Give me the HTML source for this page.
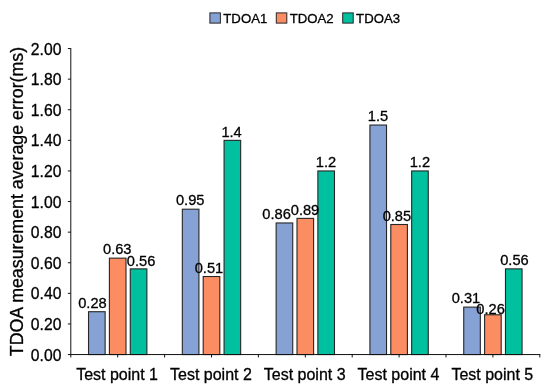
<!DOCTYPE html><html><head><meta charset="utf-8"><title>TDOA chart</title><style>html,body{margin:0;padding:0;background:#fff}svg{display:block}text{font-family:"Liberation Sans",Arial,sans-serif;fill:#000;stroke:#000;stroke-width:0.3px;stroke-linejoin:round}</style></head><body>
<svg width="550" height="390" viewBox="0 0 550 390">
<rect width="550" height="390" fill="#fff"/>
<rect x="88.53" y="311.71" width="16.6" height="42.84" fill="#86A1D3" stroke="#262626" stroke-width="1.1"/>
<rect x="109.40" y="258.16" width="16.6" height="96.39" fill="#FC8D62" stroke="#262626" stroke-width="1.1"/>
<rect x="130.27" y="268.87" width="16.6" height="85.68" fill="#00C0A0" stroke="#262626" stroke-width="1.1"/>
<rect x="182.33" y="209.20" width="16.6" height="145.35" fill="#86A1D3" stroke="#262626" stroke-width="1.1"/>
<rect x="203.20" y="276.52" width="16.6" height="78.03" fill="#FC8D62" stroke="#262626" stroke-width="1.1"/>
<rect x="224.07" y="140.35" width="16.6" height="214.20" fill="#00C0A0" stroke="#262626" stroke-width="1.1"/>
<rect x="276.13" y="222.97" width="16.6" height="131.58" fill="#86A1D3" stroke="#262626" stroke-width="1.1"/>
<rect x="297.00" y="218.38" width="16.6" height="136.17" fill="#FC8D62" stroke="#262626" stroke-width="1.1"/>
<rect x="317.87" y="170.95" width="16.6" height="183.60" fill="#00C0A0" stroke="#262626" stroke-width="1.1"/>
<rect x="369.93" y="125.05" width="16.6" height="229.50" fill="#86A1D3" stroke="#262626" stroke-width="1.1"/>
<rect x="390.80" y="224.50" width="16.6" height="130.05" fill="#FC8D62" stroke="#262626" stroke-width="1.1"/>
<rect x="411.67" y="170.95" width="16.6" height="183.60" fill="#00C0A0" stroke="#262626" stroke-width="1.1"/>
<rect x="463.73" y="307.12" width="16.6" height="47.43" fill="#86A1D3" stroke="#262626" stroke-width="1.1"/>
<rect x="484.60" y="314.77" width="16.6" height="39.78" fill="#FC8D62" stroke="#262626" stroke-width="1.1"/>
<rect x="505.47" y="268.87" width="16.6" height="85.68" fill="#00C0A0" stroke="#262626" stroke-width="1.1"/>
<g stroke="#111" stroke-width="1" fill="none">
<line x1="70.8" y1="48.05" x2="70.8" y2="355.05"/>
<line x1="70.3" y1="354.55" x2="540.3" y2="354.55"/>
<line x1="67.89999999999999" y1="354.55" x2="70.8" y2="354.55"/>
<line x1="67.89999999999999" y1="323.95" x2="70.8" y2="323.95"/>
<line x1="67.89999999999999" y1="293.35" x2="70.8" y2="293.35"/>
<line x1="67.89999999999999" y1="262.75" x2="70.8" y2="262.75"/>
<line x1="67.89999999999999" y1="232.15" x2="70.8" y2="232.15"/>
<line x1="67.89999999999999" y1="201.55" x2="70.8" y2="201.55"/>
<line x1="67.89999999999999" y1="170.95" x2="70.8" y2="170.95"/>
<line x1="67.89999999999999" y1="140.35" x2="70.8" y2="140.35"/>
<line x1="67.89999999999999" y1="109.75" x2="70.8" y2="109.75"/>
<line x1="67.89999999999999" y1="79.15" x2="70.8" y2="79.15"/>
<line x1="67.89999999999999" y1="48.55" x2="70.8" y2="48.55"/>
<line x1="70.80" y1="354.55" x2="70.80" y2="357.45"/>
<line x1="117.70" y1="354.55" x2="117.70" y2="357.45"/>
<line x1="164.60" y1="354.55" x2="164.60" y2="357.45"/>
<line x1="211.50" y1="354.55" x2="211.50" y2="357.45"/>
<line x1="258.40" y1="354.55" x2="258.40" y2="357.45"/>
<line x1="305.30" y1="354.55" x2="305.30" y2="357.45"/>
<line x1="352.20" y1="354.55" x2="352.20" y2="357.45"/>
<line x1="399.10" y1="354.55" x2="399.10" y2="357.45"/>
<line x1="446.00" y1="354.55" x2="446.00" y2="357.45"/>
<line x1="492.90" y1="354.55" x2="492.90" y2="357.45"/>
<line x1="539.80" y1="354.55" x2="539.80" y2="357.45"/>
</g>
<text x="78.19" y="308.10" font-size="14.67">0.28</text>
<text x="102.99" y="254.30" font-size="14.67">0.63</text>
<text x="126.82" y="266.30" font-size="14.67">0.56</text>
<text x="175.93" y="205.40" font-size="14.67">0.95</text>
<text x="194.72" y="273.00" font-size="14.67">0.51</text>
<text x="221.40" y="137.00" font-size="14.67">1.4</text>
<text x="262.37" y="219.40" font-size="14.67">0.86</text>
<text x="290.74" y="214.80" font-size="14.67">0.89</text>
<text x="315.77" y="167.20" font-size="14.67">1.2</text>
<text x="367.86" y="120.80" font-size="14.67">1.5</text>
<text x="382.63" y="220.80" font-size="14.67">0.85</text>
<text x="409.67" y="167.30" font-size="14.67">1.2</text>
<text x="451.67" y="302.80" font-size="14.67">0.31</text>
<text x="476.32" y="313.80" font-size="14.67">0.26</text>
<text x="500.17" y="265.40" font-size="14.67">0.56</text>
<text x="61.4" y="360.70" font-size="15.7" text-anchor="end">0.00</text>
<text x="61.4" y="330.09" font-size="15.7" text-anchor="end">0.20</text>
<text x="61.4" y="299.48" font-size="15.7" text-anchor="end">0.40</text>
<text x="61.4" y="268.87" font-size="15.7" text-anchor="end">0.60</text>
<text x="61.4" y="238.26" font-size="15.7" text-anchor="end">0.80</text>
<text x="61.4" y="207.65" font-size="15.7" text-anchor="end">1.00</text>
<text x="61.4" y="177.04" font-size="15.7" text-anchor="end">1.20</text>
<text x="61.4" y="146.43" font-size="15.7" text-anchor="end">1.40</text>
<text x="61.4" y="115.82" font-size="15.7" text-anchor="end">1.60</text>
<text x="61.4" y="85.21" font-size="15.7" text-anchor="end">1.80</text>
<text x="61.4" y="54.60" font-size="15.7" text-anchor="end">2.00</text>
<text x="117.10" y="379.9" font-size="16" text-anchor="middle">Test point 1</text>
<text x="210.90" y="379.9" font-size="16" text-anchor="middle">Test point 2</text>
<text x="304.70" y="379.9" font-size="16" text-anchor="middle">Test point 3</text>
<text x="398.50" y="379.9" font-size="16" text-anchor="middle">Test point 4</text>
<text x="492.30" y="379.9" font-size="16" text-anchor="middle">Test point 5</text>
<text transform="translate(23.3,201.55) rotate(-90)" font-size="17.8" text-anchor="middle">TDOA measurement average error(ms)</text>
<rect x="209.90" y="12.9" width="10.5" height="10.2" fill="#86A1D3" stroke="#262626" stroke-width="1"/>
<text x="223.30" y="22.5" font-size="13.2" stroke-width="0.15">TDOA1</text>
<rect x="276.30" y="12.9" width="10.5" height="10.2" fill="#FC8D62" stroke="#262626" stroke-width="1"/>
<text x="289.70" y="22.5" font-size="13.2" stroke-width="0.15">TDOA2</text>
<rect x="342.70" y="12.9" width="10.5" height="10.2" fill="#00C0A0" stroke="#262626" stroke-width="1"/>
<text x="356.10" y="22.5" font-size="13.2" stroke-width="0.15">TDOA3</text>
</svg></body></html>
